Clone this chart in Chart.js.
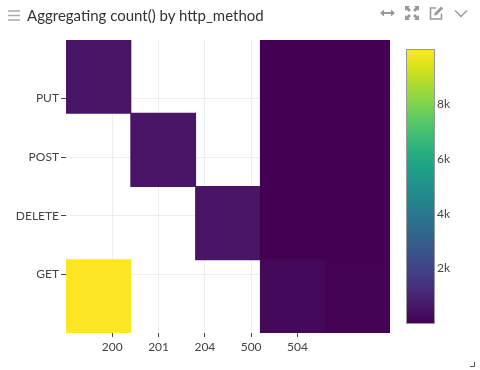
<!DOCTYPE html>
<html>
<head>
<meta charset="utf-8">
<script src="https://cdn.jsdelivr.net/npm/chart.js@4"></script>
<style>
  html, body { margin: 0; padding: 0; background: #fff; }
  body { width: 480px; height: 370px; position: relative; overflow: hidden; font-family: Lato, "Open Sans", sans-serif; }
  #hdr { position: absolute; left: 8px; top: 4px; height: 22px; display: flex; align-items: center; color: #333; font-size: 15px; }
  #hdr .burger { width: 12px; margin-right: 7px; }
  #icons { position: absolute; right: 12px; top: 6px; display: flex; gap: 10px; align-items: center; }
  #icons svg { display: block; }
  #grip { position: absolute; right: 5px; bottom: 3px; width: 4px; height: 4px; border-right: 1px solid #555; border-bottom: 1px solid #555; }
  canvas { position: absolute; left: 0; top: 0; }
</style>
</head>
<body>
<canvas id="chartHeat" width="480" height="370"></canvas>
<div id="hdr">
  <svg class="burger" width="12" height="11" viewBox="0 0 12 11"><path d="M0 1h12M0 5.5h12M0 10h12" stroke="#aaa" stroke-width="1.4"/></svg>
  <span>Aggregating count() by http_method</span>
</div>
<div id="icons">
  <svg width="15" height="14" viewBox="0 0 15 14"><path d="M1 7h13" stroke="#999" stroke-width="2"/><path d="M0 7l4-3.5v7z M15 7l-4-3.5v7z" fill="#999"/></svg>
  <svg width="14" height="14" viewBox="0 0 14 14"><path d="M0 0h5l-1.5 1.5 2.5 2.5-2 2-2.5-2.5L0 5z M14 0v5l-1.5-1.5-2.5 2.5-2-2 2.5-2.5L9 0z M0 14v-5l1.5 1.5 2.5-2.5 2 2-2.5 2.5L5 14z M14 14h-5l1.5-1.5-2.5-2.5 2-2 2.5 2.5L14 9z" fill="#999"/></svg>
  <svg width="15" height="14" viewBox="0 0 15 14"><path d="M7 2H1.5v11h11V7.5" fill="none" stroke="#999" stroke-width="1.6"/><path d="M5 9.5l0.6-2.6 6.5-6.5 2 2-6.5 6.5z" fill="#999"/></svg>
  <svg width="14" height="14" viewBox="0 0 14 14"><path d="M1 4.5l6 6 6-6" fill="none" stroke="#999" stroke-width="1.4"/></svg>
</div>
<div id="grip"></div>
<script>
// ===== HEATMAP: count() by http_method =====
const statusCodes = ['200', '201', '204', '500', '504'];
const methods = ['GET', 'DELETE', 'POST', 'PUT'];   // bottom -> top

// cell values, one row per method, one column per grid column (null = empty)
const rowGET    = [9980, null, null, 230, 30];
const rowDELETE = [null, null, 560, 25, 25];
const rowPOST   = [null, 560, null, 20, 20];
const rowPUT    = [520, null, null, 15, 15];
const cellRows = [rowGET, rowDELETE, rowPOST, rowPUT];

const colorTicks = [2000, 4000, 6000, 8000];

const VIRIDIS = ['#440154','#48186a','#472d7b','#424086','#3b528b','#33638d','#2c728e','#26828e',
  '#21918c','#1fa088','#28ae80','#3fbc73','#5ec962','#84d44b','#addc30','#d8e219','#fde725'];

const allVals = cellRows.flat().filter(v => v != null);
const cMin = Math.min(...allVals);
const cMax = Math.max(...allVals);

function hexRgb(h) { return [1,3,5].map(i => parseInt(h.substr(i,2),16)); }
function viridis(t) {
  t = Math.max(0, Math.min(1, t));
  const p = t * (VIRIDIS.length - 1);
  const i = Math.min(Math.floor(p), VIRIDIS.length - 2);
  const f = p - i;
  const a = hexRgb(VIRIDIS[i]), b = hexRgb(VIRIDIS[i+1]);
  const c = a.map((v, k) => Math.round(v + (b[k]-v)*f));
  return `rgb(${c[0]},${c[1]},${c[2]})`;
}
const colorOf = v => viridis((v - cMin) / (cMax - cMin));

const datasets = cellRows.map((row, r) => ({
  label: methods[r],
  data: row.map(v => v == null ? null : [r, r + 1]),
  backgroundColor: row.map(v => v == null ? 'rgba(0,0,0,0)' : colorOf(v)),
  borderWidth: 0,
  inflateAmount: 0.5,
  grouped: false,
  xAxisID: 'xc',
  yAxisID: 'yc'
}));

const tickFont = { family: 'Lato, "Open Sans", sans-serif', size: 12 };

// colorbar drawn beside the plot area
const colorbarPlugin = {
  id: 'colorbar',
  afterDraw(chart) {
    const { ctx, chartArea: a } = chart;
    const x0 = a.right + 17, w = 27;
    const top = a.top + 10, bot = a.bottom - 10;
    const g = ctx.createLinearGradient(0, bot, 0, top);
    VIRIDIS.forEach((c, i) => g.addColorStop(i / (VIRIDIS.length - 1), c));
    ctx.save();
    ctx.fillStyle = g;
    ctx.fillRect(x0, top, w, bot - top);
    ctx.strokeStyle = '#999';
    ctx.lineWidth = 1;
    ctx.strokeRect(x0 - 0.5, top - 0.5, w + 1, bot - top + 1);
    ctx.fillStyle = '#444';
    ctx.font = '12px ' + tickFont.family;
    ctx.textBaseline = 'middle';
    ctx.textAlign = 'left';
    colorTicks.forEach(v => {
      const y = bot - (v - cMin) / (cMax - cMin) * (bot - top);
      ctx.fillText((v / 1000) + 'k', x0 + w + 3, y);
    });
    ctx.restore();
  }
};

new Chart(document.getElementById('chartHeat'), {
  type: 'bar',
  data: { labels: statusCodes, datasets },
  options: {
    responsive: false,
    animation: false,
    layout: { padding: { top: 40, right: 90, left: 0, bottom: 0 } },
    plugins: { legend: { display: false }, tooltip: { enabled: false } },
    datasets: { bar: { categoryPercentage: 1, barPercentage: 1 } },
    scales: {
      xc: { type: 'category', display: false, offset: true },
      yc: { type: 'linear', display: false, min: 0, max: methods.length },
      x: {
        type: 'linear', position: 'bottom', min: -1, max: 6, offset: false,
        afterBuildTicks: s => { s.ticks = statusCodes.map((_, i) => ({ value: i })); },
        afterFit: s => { s.height = 37; },
        ticks: { callback: v => statusCodes[v] ?? '', color: '#444', font: tickFont, padding: 3, maxRotation: 0 },
        grid: { offset: false, color: '#eeeeee', tickColor: '#444', tickLength: 4 },
        border: { display: false }
      },
      y: {
        type: 'linear', position: 'left', min: -1, max: 4, offset: false,
        afterBuildTicks: s => { s.ticks = methods.map((_, i) => ({ value: i })); },
        afterFit: s => { s.width = 66; },
        ticks: { callback: v => methods[v] ?? '', color: '#444', font: tickFont, padding: 2 },
        grid: { offset: false, color: '#eeeeee', tickColor: '#444', tickLength: 5 },
        border: { display: false }
      }
    }
  },
  plugins: [colorbarPlugin]
});
</script>
</body>
</html>
